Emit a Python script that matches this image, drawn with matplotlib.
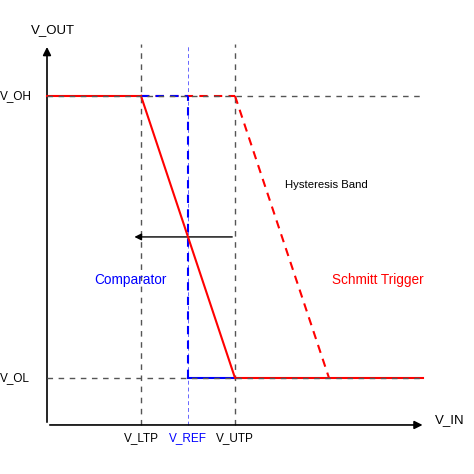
import matplotlib
matplotlib.use("Agg")
import matplotlib.pyplot as plt

plt.rcParams['font.family'] = ['Liberation Sans', 'DejaVu Sans']

V_OL, V_OH = 1.0, 7.0
V_LTP, V_REF, V_UTP = 2.0, 3.0, 4.0
SCHMITT_END = 6.0
X_MAX, Y_MAX = 8.05, 8.1

fig = plt.figure(figsize=(4.74, 4.74), dpi=100)
ax = fig.add_axes([0, 0, 1, 1])
ax.set_xlim(-1.0, 9.085)
ax.set_ylim(-1.043, 9.04)
ax.axis('off')

# axes arrows
ax.annotate('', xy=(X_MAX, 0), xytext=(0, 0), arrowprops=dict(arrowstyle='-|>', color='black', lw=1.2, mutation_scale=12))
ax.annotate('', xy=(0, Y_MAX), xytext=(0, 0), arrowprops=dict(arrowstyle='-|>', color='black', lw=1.2, mutation_scale=12))

# Comparator (blue)
ax.plot([V_LTP, V_REF], [V_OH, V_OH], color='blue', lw=1.5, ls=(0, (4, 3)), zorder=3)
ax.plot([V_REF, V_REF], [V_OL, V_OH], color='blue', lw=1.5, ls=(0, (4, 3)), zorder=3)
ax.plot([V_REF, V_UTP], [V_OL, V_OL], color='blue', lw=1.5, zorder=3)
ax.plot([V_REF, V_REF], [0, Y_MAX], color='blue', lw=0.7, ls=(0, (4, 3)), alpha=0.6, zorder=1)

# Schmitt trigger (red)
ax.plot([0, V_LTP], [V_OH, V_OH], color='red', lw=1.5, zorder=4)
ax.plot([V_LTP, V_UTP], [V_OH, V_OL], color='red', lw=1.5, zorder=4)
ax.plot([V_UTP, X_MAX - 0.05], [V_OL, V_OL], color='red', lw=1.5, zorder=2)
ax.plot([V_LTP, V_UTP], [V_OH, V_OH], color='red', lw=1.5, ls=(0, (4, 3)), zorder=2)
ax.plot([V_UTP, SCHMITT_END], [V_OH, V_OL], color='red', lw=1.5, ls=(0, (4, 3)), zorder=4)

# grey guides
for yv in (V_OH, V_OL):
    ax.plot([0, X_MAX - 0.05], [yv, yv], color='#555555', lw=1.0, ls=(0, (4, 4)), zorder=5)
for xv in (V_LTP, V_UTP):
    ax.plot([xv, xv], [0, Y_MAX], color='#555555', lw=1.0, ls=(0, (4, 4)), zorder=1)

# hysteresis arrow
ax.annotate('', xy=(1.8, 4.0), xytext=(V_UTP, 4.0), arrowprops=dict(arrowstyle='-|>', color='black', lw=1.0, mutation_scale=10))

fs = 8.5
ax.text(5.06, 5.1, 'Hysteresis Band', fontsize=8.2, va='center', ha='left')
ax.text(1.77, 3.09, 'Comparator', fontsize=9.8, color='blue', ha='center', va='center')
ax.text(7.04, 3.09, 'Schmitt Trigger', fontsize=9.8, color='red', ha='center', va='center')
ax.text(-1.0, V_OH, 'V_OH', fontsize=fs, ha='left', va='center')
ax.text(-1.0, V_OL, 'V_OL', fontsize=fs, ha='left', va='center')
ax.text(-0.35, 8.4, 'V_OUT', fontsize=9.5, ha='left', va='center')
ax.text(8.25, 0.1, 'V_IN', fontsize=9.5, ha='left', va='center')
ax.text(V_LTP, -0.27, 'V_LTP', fontsize=fs, ha='center', va='center')
ax.text(V_REF, -0.27, 'V_REF', fontsize=fs, ha='center', va='center', color='blue')
ax.text(V_UTP, -0.27, 'V_UTP', fontsize=fs, ha='center', va='center')

fig.savefig('out.png', dpi=100)
